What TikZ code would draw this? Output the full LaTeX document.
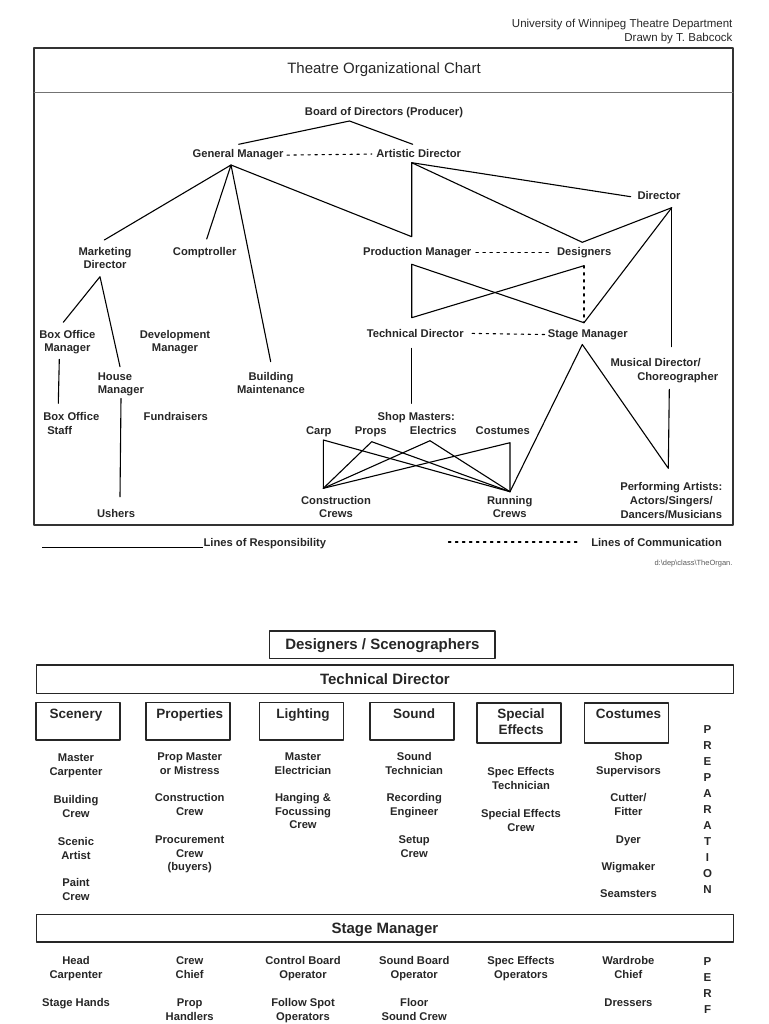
\documentclass[tikz,border=0pt]{standalone}
\usepackage{fontspec}
\setmainfont{Liberation Sans}
\begin{document}
\begin{tikzpicture}[x=1pt, y=-1pt, font=\fontsize{11.2}{13.8}\selectfont\bfseries, line join=round, line cap=round, line width=1.1pt,
	lbl/.style={inner sep=0pt, align=center, anchor=base, text=black!85},
	lbll/.style={lbl, align=left, anchor=base west},
	hdr/.style={lbl, anchor=base east, font=\fontsize{11.5}{14}\selectfont\mdseries},
	com/.style={dash pattern=on 2.4pt off 4.6pt},
	boxed/.style={draw=black!85, line width=1.6pt, inner sep=0pt, text=black!85},
	hd/.style={boxed, font=\fontsize{15}{18}\selectfont\bfseries, text height=10.8pt, text depth=0pt},
	cat/.style={boxed, minimum width=84pt},
	catl/.style={lbl, font=\fontsize{13.5}{15.3}\selectfont\bfseries},
	vert/.style={lbl, font=\fontsize{11.5}{16.07}\selectfont\bfseries}]
	\useasboundingbox (0,0) rectangle (768,1024);
	\node[hdr] (univ) at (733,28) {University of Winnipeg Theatre Department};
	\node[hdr] (drawn) at (733,42) {Drawn by T. Babcock};
	\draw[line width=2pt, draw=black!80] (34,48) rectangle (733,525);
	\draw[line width=0.9pt, draw=black!55] (34,92) -- (733,92);
	\node[lbl, font=\fontsize{15}{18}\selectfont\mdseries] (title) at (384,73.7) {Theatre Organizational Chart};
	
	\node[lbl] (board) at (384,116) {Board of Directors (Producer)};
	\node[lbl] (gm) at (238,158) {General Manager};
	\node[lbl] (ad) at (418.7,158) {Artistic Director};
	\node[lbl] (dir) at (659,200) {Director};
	\node[lbl] (mkt) at (105,268.8) {Marketing\\Director};
	\node[lbl] (comp) at (204.7,255) {Comptroller};
	\node[lbl] (pm) at (417.2,255) {Production Manager};
	\node[lbl] (des) at (584.2,255) {Designers};
	\node[lbl] (bom) at (67.4,351.8) {Box Office\\Manager};
	\node[lbl] (dev) at (175,351.8) {Development\\Manager};
	\node[lbl] (td) at (415.2,337.3) {Technical Director};
	\node[lbl] (sm) at (587.8,337.3) {Stage Manager};
	\node[lbll] (md) at (610,380.5) {Musical Director/\\\hspace*{26.7pt}Choreographer};
	\node[lbll] (hm) at (97.3,393.8) {House\\Manager};
	\node[lbl] (bm) at (271,393.8) {Building\\Maintenance};
	\node[lbll] (bos) at (42.7,434.5) {Box Office\\\hspace*{4pt}Staff};
	\node[lbl] (fund) at (175.8,420.7) {Fundraisers};
	\node[lbl] (shop) at (416.3,420.7) {Shop Masters:};
	\node[lbl] (carp) at (318.8,434) {Carp};
	\node[lbl] (props) at (370.7,434) {Props};
	\node[lbl] (elec) at (433.3,434) {Electrics};
	\node[lbl] (costm) at (502.8,434) {Costumes};
	\node[lbl] (cc) at (336,517.8) {Construction\\Crews};
	\node[lbl] (rc) at (509.7,517.8) {Running\\Crews};
	\node[lbl] (pa) at (671.3,518.3) {Performing Artists:\\Actors/Singers/\\Dancers/Musicians};
	\node[lbl] (ush) at (116,517.3) {Ushers};
	
	\path (349.5,121) coordinate (board-b)
		(238.7,144.3) coordinate (gm-t)
		(412.7,144.3) coordinate (ad-t)
		(231,165) coordinate (gm-b)
		(104.3,240) coordinate (mkt-t)
		(206.7,239) coordinate (comp-t)
		(270.7,361.7) coordinate (bm-t)
		(411.7,236.7) coordinate (pm-t)
		(411.7,162.7) coordinate (ad-b)
		(582.3,242.3) coordinate (des-t)
		(630.7,196.7) coordinate (dir-w)
		(671.7,207.7) coordinate (dir-b)
		(584,322.7) coordinate (sm-t)
		(671.7,346.7) coordinate (md-t)
		(411.7,264.3) coordinate (pm-b)
		(411.7,317.7) coordinate (td-t)
		(584,265.7) coordinate (des-b)
		(100,276.7) coordinate (mkt-b)
		(63.3,322.3) coordinate (bom-t)
		(120,366.7) coordinate (hm-t)
		(59.3,359.3) coordinate (bom-b)
		(58.3,403.3) coordinate (bos-t)
		(121,398.3) coordinate (hm-b)
		(120,496.7) coordinate (ush-t)
		(411.7,348.3) coordinate (td-b)
		(411.7,403.3) coordinate (shop-t)
		(582.3,344.5) coordinate (sm-b)
		(510,491.7) coordinate (rc-t)
		(668.3,468.3) coordinate (pa-t)
		(669.3,389.3) coordinate (md-b)
		(323.3,440) coordinate (carp-b)
		(371.7,441.7) coordinate (props-b)
		(430,440.7) coordinate (elec-b)
		(510,442.7) coordinate (costm-b)
		(323.3,488.3) coordinate (cc-t);
	
	\draw (gm-t)--(board-b)--(ad-t);
	\draw[com, shorten <=3pt, shorten >=4pt] (gm.east)--(ad.west);
	\draw (mkt-t)--(gm-b)--(comp-t);
	\draw (gm-b)--(bm-t);
	\draw (gm-b)--(pm-t)--(ad-b)--(des-t)--(dir-b);
	\draw (ad-b)--(dir-w);
	\draw (dir-b)--(sm-t);
	\draw (dir-b)--(md-t);
	\draw[com, shorten <=4pt, shorten >=5pt] (pm.east)--(des.west);
	\draw (pm-b)--(td-t)--(des-b);
	\draw (pm-b)--(sm-t);
	\draw[com] (des-b)--(sm-t);
	\draw[com, shorten <=8pt, shorten >=1.5pt] (td.east)--(sm.west);
	\draw (bom-t)--(mkt-b)--(hm-t);
	\draw (bom-b)--(bos-t);
	\draw (hm-b)--(ush-t);
	\draw (td-b)--(shop-t);
	\draw (rc-t)--(sm-b)--(pa-t)--(md-b);
	\draw (cc-t)--(carp-b)--(rc-t);
	\draw (cc-t)--(props-b)--(rc-t);
	\draw (cc-t)--(elec-b)--(rc-t);
	\draw (cc-t)--(costm-b)--(rc-t);
	
	\node[lbl, anchor=base west] (resp) at (203,546) {Lines of Responsibility};
	\node[lbl, anchor=base west] (comm) at (590.7,546) {Lines of Communication};
	\path (42,547.5) coordinate (resp-l)
		(448.5,542) coordinate (comm-l);
	\draw[line width=0.8pt, line cap=butt] (resp-l) -- (resp-l -| resp.west);
	\draw[com] (comm-l) -- ([xshift=-9.7pt]comm-l -| comm.west);
	\node[hdr, font=\fontsize{7.5}{9}\selectfont\mdseries, text=black!65] (fpath) at (733,565) {d:\textbackslash dep\textbackslash class\textbackslash TheOrgan.};
	
	\node[hd, minimum width=225.5pt, minimum height=27.6pt] (dsc) at (382.4,644.5) {Designers / Scenographers};
	\node[hd, minimum width=697.2pt, minimum height=28.3pt] (tdb) at (384.9,679.2) {Technical Director};
	\node[cat, minimum height=37.3pt] (scenery) at (78,721.3) {};
	\node[cat, minimum height=37.3pt] (properties) at (188,721.3) {};
	\node[cat, minimum height=37.3pt] (lighting) at (301.5,721.3) {};
	\node[cat, minimum height=37.3pt] (sound) at (411.8,721.3) {};
	\node[cat, minimum height=40pt] (effects) at (519.2,722.7) {};
	\node[cat, minimum height=40pt] (costumes) at (626.5,722.7) {};
	\node[catl] (scenery-t) at (76,718.8) {Scenery};
	\node[catl] (properties-t) at (189.7,718.8) {Properties};
	\node[catl] (lighting-t) at (303,718.8) {Lighting};
	\node[catl] (sound-t) at (414.2,718.8) {Sound};
	\node[catl] (effects-t) at (521,734.1) {Special\\Effects};
	\node[catl] (costumes-t) at (628.4,718.8) {Costumes};
	
	\node[lbl] (mc) at (76,775.4) {Master\\Carpenter};
	\node[lbl] (bc) at (76,817.7) {Building\\Crew};
	\node[lbl] (sa) at (76,859.4) {Scenic\\Artist};
	\node[lbl] (pc) at (76,900.4) {Paint\\Crew};
	\node[lbl] (pmm) at (189.7,774.4) {Prop Master\\or Mistress};
	\node[lbl] (pcc) at (189.7,815) {Construction\\Crew};
	\node[lbl] (proc) at (189.7,870.8) {Procurement\\Crew\\(buyers)};
	\node[lbl] (me) at (303,774.4) {Master\\Electrician};
	\node[lbl] (hfc) at (303,828.8) {Hanging \&\\Focussing\\Crew};
	\node[lbl] (st) at (414.2,774.4) {Sound\\Technician};
	\node[lbl] (re) at (414.2,815) {Recording\\Engineer};
	\node[lbl] (sc) at (414.2,857) {Setup\\Crew};
	\node[lbl] (set) at (521,789.7) {Spec Effects\\Technician};
	\node[lbl] (sec) at (521,831.7) {Special Effects\\Crew};
	\node[lbl] (ss) at (628.4,774.4) {Shop\\Supervisors};
	\node[lbl] (cf) at (628.4,815) {Cutter/\\Fitter};
	\node[lbl] (dy) at (628.4,843.2) {Dyer};
	\node[lbl] (wig) at (628.4,870.6) {Wigmaker};
	\node[lbl] (seam) at (628.4,897.9) {Seamsters};
	\node[vert] (prep) at (707.5,893.9) {P\\R\\E\\P\\A\\R\\A\\T\\I\\O\\N};
	
	\node[hd, minimum width=697.2pt, minimum height=27.7pt] (smb) at (384.9,928.2) {Stage Manager};
	\node[lbl] (hc) at (76,978.7) {Head\\Carpenter};
	\node[lbl] (sh) at (76,1006.2) {Stage Hands};
	\node[lbl] (cch) at (189.7,978.7) {Crew\\Chief};
	\node[lbl] (ph) at (189.7,1020) {Prop\\Handlers};
	\node[lbl] (cbo) at (303,978.7) {Control Board\\Operator};
	\node[lbl] (fso) at (303,1020) {Follow Spot\\Operators};
	\node[lbl] (sbo) at (414.2,978.7) {Sound Board\\Operator};
	\node[lbl] (fsc) at (414.2,1020) {Floor\\Sound Crew};
	\node[lbl] (seo) at (521,978.7) {Spec Effects\\Operators};
	\node[lbl] (wc) at (628.4,978.7) {Wardrobe\\Chief};
	\node[lbl] (drs) at (628.4,1006.2) {Dressers};
	\node[vert] (perf) at (707.5,1013.8) {P\\E\\R\\F};
\end{tikzpicture}
\end{document}
